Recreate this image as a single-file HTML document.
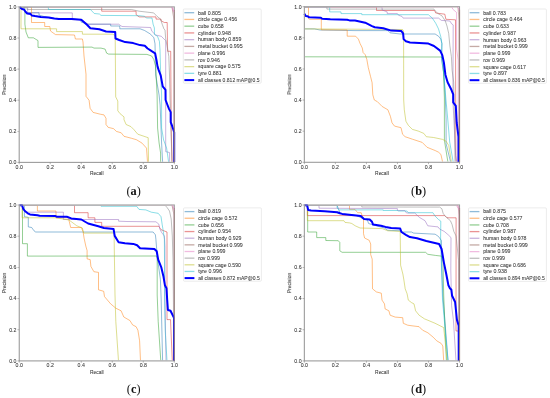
<!DOCTYPE html><html><head><meta charset="utf-8"><style>html,body{margin:0;padding:0;background:#fff;width:550px;height:398px;overflow:hidden}svg{display:block}#wrap{width:550px;height:398px}svg text{will-change:transform}</style></head><body><div id="wrap">
<svg width="550" height="398" viewBox="0 0 550 398" font-family="Liberation Sans, sans-serif">
<rect width="550" height="398" fill="#fff"/>
<defs><clipPath id="cpa"><rect x="19.9" y="7.6000000000000005" width="153.70000000000002" height="154.1"/></clipPath></defs>
<g clip-path="url(#cpa)">
<path d="M19.0,7.0 L21.2,8.7 L23.4,9.1 L25.2,11.3 L27.0,12.7 L39.0,12.7 L39.0,15.0 L44.5,16.7 L51.7,18.2 L59.0,18.9 L72.0,19.1 L81.0,19.7 L81.0,22.0 L88.0,24.2 L110.7,24.2 L110.7,26.0 L119.8,26.0 L119.8,28.8 L140.1,28.8 L144.6,30.5 L150.0,33.8 L153.8,37.5 L155.0,43.8 L155.7,75.0 L159.1,95.0 L160.1,105.0 L161.6,143.0 L162.6,162.0" fill="none" stroke="#1f77b4" stroke-opacity="0.5" stroke-width="1" stroke-linejoin="round"/>
<path d="M19.0,7.0 L31.5,7.0 L31.5,22.5 L44.7,22.5 L44.7,26.5 L49.8,26.5 L50.5,31.0 L55.5,34.6 L74.5,35.0 L75.4,39.0 L82.4,39.0 L83.0,42.0 L84.0,56.0 L86.0,74.2 L86.0,96.3 L89.1,100.3 L90.1,108.3 L93.1,112.4 L100.2,114.2 L104.0,114.9 L106.0,118.3 L106.0,124.5 L108.1,127.3 L113.6,128.7 L116.4,131.4 L121.2,132.8 L124.0,136.3 L131.6,138.3 L136.4,139.7 L142.0,143.1 L146.5,148.1 L147.5,162.0" fill="none" stroke="#ff7f0e" stroke-opacity="0.5" stroke-width="1" stroke-linejoin="round"/>
<path d="M19.0,7.0 L24.9,7.0 L24.9,24.2 L26.0,32.0 L28.3,37.8 L33.4,37.8 L38.0,40.6 L38.0,47.4 L92.0,47.1 L94.0,48.1 L101.0,48.1 L105.1,49.1 L106.6,53.1 L108.6,54.1 L146.9,54.4 L151.7,56.0 L153.8,59.5 L155.7,66.4 L157.1,95.0 L157.6,128.0 L159.1,143.0 L160.6,153.0 L160.6,162.0" fill="none" stroke="#2ca02c" stroke-opacity="0.5" stroke-width="1" stroke-linejoin="round"/>
<path d="M19.0,7.0 L101.7,7.0 L101.7,11.2 L136.1,11.2 L136.1,14.6 L139.0,16.9 L156.0,16.9 L156.0,19.1 L161.0,19.1 L161.0,20.8 L164.4,22.5 L167.2,22.5 L167.6,51.3 L170.7,51.3 L171.2,128.0 L172.0,162.0" fill="none" stroke="#d62728" stroke-opacity="0.5" stroke-width="1" stroke-linejoin="round"/>
<path d="M19.0,7.0 L27.7,7.0 L27.7,12.9 L72.3,12.9 L72.3,19.7 L81.3,19.7 L88.0,24.2 L118.6,24.2 L122.0,26.5 L150.6,27.5 L151.9,31.3 L155.7,35.0 L161.3,36.3 L163.8,38.8 L165.7,40.7 L165.7,151.6 L169.6,152.6 L169.6,162.0" fill="none" stroke="#9467bd" stroke-opacity="0.5" stroke-width="1" stroke-linejoin="round"/>
<path d="M19.0,7.0 L172.0,7.0 L174.0,20.0 L174.0,162.0" fill="none" stroke="#8c564b" stroke-opacity="0.5" stroke-width="1" stroke-linejoin="round"/>
<path d="M19.0,7.0 L171.8,7.0 L174.0,13.0 L174.0,162.0" fill="none" stroke="#e377c2" stroke-opacity="0.5" stroke-width="1" stroke-linejoin="round"/>
<path d="M19.0,7.0 L27.0,7.0 L27.0,9.5 L131.6,9.5 L139.0,11.2 L153.7,12.9 L157.0,16.3 L160.5,19.1 L162.2,24.2 L163.9,28.8 L165.0,30.0 L165.7,38.8 L167.6,48.8 L168.8,56.4 L169.5,75.0 L170.0,100.0 L172.0,162.0" fill="none" stroke="#7f7f7f" stroke-opacity="0.5" stroke-width="1" stroke-linejoin="round"/>
<path d="M19.0,7.0 L21.0,7.0 L21.0,28.8 L56.6,28.8 L56.6,31.6 L82.4,31.6 L82.4,34.2 L112.6,34.2 L115.2,35.5 L115.7,96.9 L117.8,101.0 L117.8,110.7 L119.9,113.5 L124.0,116.9 L124.0,119.7 L126.1,124.5 L130.9,126.6 L133.7,129.4 L137.8,134.2 L146.1,137.0 L148.2,137.7 L148.5,162.0" fill="none" stroke="#bcbd22" stroke-opacity="0.5" stroke-width="1" stroke-linejoin="round"/>
<path d="M19.0,7.0 L48.4,7.0 L48.4,9.5 L90.4,9.5 L94.3,13.5 L99.4,14.0 L101.0,15.4 L139.0,15.7 L144.6,16.3 L146.3,18.0 L152.0,18.0 L153.1,24.2 L154.4,28.0 L154.4,34.4 L157.5,36.3 L159.4,41.3 L160.0,50.0 L160.7,75.0 L161.6,95.0 L161.6,128.0 L163.6,140.0 L166.6,148.0 L168.6,162.0" fill="none" stroke="#17becf" stroke-opacity="0.5" stroke-width="1" stroke-linejoin="round"/>
</g><g>
<path d="M19.5,7.0 L22.0,9.0 L24.0,9.5 L25.5,11.8 L27.2,13.5 L30.6,14.0 L31.7,15.4 L35.0,16.0 L40.8,16.9 L48.7,17.4 L54.3,18.6 L58.9,19.1 L72.0,19.1 L81.3,19.7 L87.0,24.8 L90.4,28.2 L99.4,29.3 L106.1,31.5 L115.2,32.0 L115.5,38.5 L119.2,40.0 L125.2,42.1 L133.2,43.1 L140.0,45.1 L144.8,45.7 L147.6,48.5 L151.7,51.2 L155.1,53.3 L156.5,60.2 L157.5,66.4 L158.6,69.9 L160.7,75.4 L162.7,86.4 L165.5,89.9 L165.6,100.0 L167.1,104.0 L169.1,109.1 L170.7,112.1 L170.7,122.1 L172.2,126.2 L174.2,132.2 L174.2,162.0" fill="none" stroke="#0000ff" stroke-width="2" stroke-linejoin="round"/>
<rect x="19.2" y="6.9" width="155.10000000000002" height="155.5" fill="none" stroke="#9c9c9c" stroke-width="1.1"/>
<line x1="174.3" y1="9.9" x2="174.3" y2="162.4" stroke="#8c564b" stroke-opacity="0.35" stroke-width="1.3"/>
<path d="M171.8,6.9 Q173.8,7.4 174.0,11.9" fill="none" stroke="#e377c2" stroke-opacity="0.5" stroke-width="1"/>
<line x1="17.4" y1="162.40" x2="19.2" y2="162.40" stroke="#888" stroke-width="0.6"/>
<line x1="19.20" y1="162.4" x2="19.20" y2="164.20000000000002" stroke="#888" stroke-width="0.6"/>
<text x="16.4" y="164.20" font-size="4.8" fill="#333" stroke="#333" stroke-width="0.05" text-anchor="end" textLength="7.28" lengthAdjust="spacingAndGlyphs">0.0</text>
<text x="19.20" y="168.9" font-size="4.8" fill="#333" stroke="#333" stroke-width="0.05" text-anchor="middle" textLength="7.28" lengthAdjust="spacingAndGlyphs">0.0</text>
<line x1="17.4" y1="131.30" x2="19.2" y2="131.30" stroke="#888" stroke-width="0.6"/>
<line x1="50.22" y1="162.4" x2="50.22" y2="164.20000000000002" stroke="#888" stroke-width="0.6"/>
<text x="16.4" y="133.10" font-size="4.8" fill="#333" stroke="#333" stroke-width="0.05" text-anchor="end" textLength="7.28" lengthAdjust="spacingAndGlyphs">0.2</text>
<text x="50.22" y="168.9" font-size="4.8" fill="#333" stroke="#333" stroke-width="0.05" text-anchor="middle" textLength="7.28" lengthAdjust="spacingAndGlyphs">0.2</text>
<line x1="17.4" y1="100.20" x2="19.2" y2="100.20" stroke="#888" stroke-width="0.6"/>
<line x1="81.24" y1="162.4" x2="81.24" y2="164.20000000000002" stroke="#888" stroke-width="0.6"/>
<text x="16.4" y="102.00" font-size="4.8" fill="#333" stroke="#333" stroke-width="0.05" text-anchor="end" textLength="7.28" lengthAdjust="spacingAndGlyphs">0.4</text>
<text x="81.24" y="168.9" font-size="4.8" fill="#333" stroke="#333" stroke-width="0.05" text-anchor="middle" textLength="7.28" lengthAdjust="spacingAndGlyphs">0.4</text>
<line x1="17.4" y1="69.10" x2="19.2" y2="69.10" stroke="#888" stroke-width="0.6"/>
<line x1="112.26" y1="162.4" x2="112.26" y2="164.20000000000002" stroke="#888" stroke-width="0.6"/>
<text x="16.4" y="70.90" font-size="4.8" fill="#333" stroke="#333" stroke-width="0.05" text-anchor="end" textLength="7.28" lengthAdjust="spacingAndGlyphs">0.6</text>
<text x="112.26" y="168.9" font-size="4.8" fill="#333" stroke="#333" stroke-width="0.05" text-anchor="middle" textLength="7.28" lengthAdjust="spacingAndGlyphs">0.6</text>
<line x1="17.4" y1="38.00" x2="19.2" y2="38.00" stroke="#888" stroke-width="0.6"/>
<line x1="143.28" y1="162.4" x2="143.28" y2="164.20000000000002" stroke="#888" stroke-width="0.6"/>
<text x="16.4" y="39.80" font-size="4.8" fill="#333" stroke="#333" stroke-width="0.05" text-anchor="end" textLength="7.28" lengthAdjust="spacingAndGlyphs">0.8</text>
<text x="143.28" y="168.9" font-size="4.8" fill="#333" stroke="#333" stroke-width="0.05" text-anchor="middle" textLength="7.28" lengthAdjust="spacingAndGlyphs">0.8</text>
<line x1="17.4" y1="6.90" x2="19.2" y2="6.90" stroke="#888" stroke-width="0.6"/>
<line x1="174.30" y1="162.4" x2="174.30" y2="164.20000000000002" stroke="#888" stroke-width="0.6"/>
<text x="16.4" y="8.70" font-size="4.8" fill="#333" stroke="#333" stroke-width="0.05" text-anchor="end" textLength="7.28" lengthAdjust="spacingAndGlyphs">1.0</text>
<text x="174.30" y="168.9" font-size="4.8" fill="#333" stroke="#333" stroke-width="0.05" text-anchor="middle" textLength="7.28" lengthAdjust="spacingAndGlyphs">1.0</text>
<text x="96.75" y="175.20000000000002" font-size="4.8" fill="#333" stroke="#333" stroke-width="0.05" text-anchor="middle" textLength="13.66" lengthAdjust="spacingAndGlyphs">Recall</text>
<text transform="translate(6.0,84.65) rotate(-90)" font-size="4.8" fill="#333" stroke="#333" stroke-width="0.05" text-anchor="middle" textLength="20.44" lengthAdjust="spacingAndGlyphs">Precision</text>
<rect x="183.3" y="9" width="77.90" height="74.20" rx="1" fill="#fff" stroke="#ddd" stroke-width="0.6"/>
<line x1="184.40" y1="12.70" x2="194.20" y2="12.70" stroke="#1f77b4" stroke-opacity="0.5" stroke-width="1.3"/>
<text x="198.00" y="14.50" font-size="4.8" fill="#333" stroke="#333" stroke-width="0.05" textLength="22.83" lengthAdjust="spacingAndGlyphs">ball 0.805</text>
<line x1="184.40" y1="19.44" x2="194.20" y2="19.44" stroke="#ff7f0e" stroke-opacity="0.5" stroke-width="1.3"/>
<text x="198.00" y="21.24" font-size="4.8" fill="#333" stroke="#333" stroke-width="0.05" textLength="39.25" lengthAdjust="spacingAndGlyphs">circle cage 0.456</text>
<line x1="184.40" y1="26.18" x2="194.20" y2="26.18" stroke="#2ca02c" stroke-opacity="0.5" stroke-width="1.3"/>
<text x="198.00" y="27.98" font-size="4.8" fill="#333" stroke="#333" stroke-width="0.05" textLength="25.71" lengthAdjust="spacingAndGlyphs">cube 0.658</text>
<line x1="184.40" y1="32.92" x2="194.20" y2="32.92" stroke="#d62728" stroke-opacity="0.5" stroke-width="1.3"/>
<text x="198.00" y="34.72" font-size="4.8" fill="#333" stroke="#333" stroke-width="0.05" textLength="32.85" lengthAdjust="spacingAndGlyphs">cylinder 0.948</text>
<line x1="184.40" y1="39.66" x2="194.20" y2="39.66" stroke="#9467bd" stroke-opacity="0.5" stroke-width="1.3"/>
<text x="198.00" y="41.46" font-size="4.8" fill="#333" stroke="#333" stroke-width="0.05" textLength="43.33" lengthAdjust="spacingAndGlyphs">human body 0.859</text>
<line x1="184.40" y1="46.40" x2="194.20" y2="46.40" stroke="#8c564b" stroke-opacity="0.5" stroke-width="1.3"/>
<text x="198.00" y="48.20" font-size="4.8" fill="#333" stroke="#333" stroke-width="0.05" textLength="44.61" lengthAdjust="spacingAndGlyphs">metal bucket 0.995</text>
<line x1="184.40" y1="53.14" x2="194.20" y2="53.14" stroke="#e377c2" stroke-opacity="0.5" stroke-width="1.3"/>
<text x="198.00" y="54.94" font-size="4.8" fill="#333" stroke="#333" stroke-width="0.05" textLength="27.27" lengthAdjust="spacingAndGlyphs">plane 0.996</text>
<line x1="184.40" y1="59.88" x2="194.20" y2="59.88" stroke="#7f7f7f" stroke-opacity="0.5" stroke-width="1.3"/>
<text x="198.00" y="61.68" font-size="4.8" fill="#333" stroke="#333" stroke-width="0.05" textLength="21.86" lengthAdjust="spacingAndGlyphs">rov 0.946</text>
<line x1="184.40" y1="66.62" x2="194.20" y2="66.62" stroke="#bcbd22" stroke-opacity="0.5" stroke-width="1.3"/>
<text x="198.00" y="68.42" font-size="4.8" fill="#333" stroke="#333" stroke-width="0.05" textLength="42.68" lengthAdjust="spacingAndGlyphs">square cage 0.575</text>
<line x1="184.40" y1="73.36" x2="194.20" y2="73.36" stroke="#17becf" stroke-opacity="0.5" stroke-width="1.3"/>
<text x="198.00" y="75.16" font-size="4.8" fill="#333" stroke="#333" stroke-width="0.05" textLength="23.67" lengthAdjust="spacingAndGlyphs">tyre 0.881</text>
<line x1="184.40" y1="80.10" x2="194.20" y2="80.10" stroke="#0000ff" stroke-opacity="1" stroke-width="2"/>
<text x="198.00" y="81.90" font-size="4.8" fill="#333" stroke="#333" stroke-width="0.05" textLength="61.62" lengthAdjust="spacingAndGlyphs">all classes 0.812 mAP@0.5</text>
<text x="133.7" y="194.8" font-family="Liberation Serif, serif" font-size="12.3" fill="#111" text-anchor="middle">(<tspan font-weight="bold">a</tspan>)</text>
</g>
<defs><clipPath id="cpb"><rect x="305.05" y="7.4" width="153.74999999999997" height="154.20000000000002"/></clipPath></defs>
<g clip-path="url(#cpb)">
<path d="M304.5,7.0 L304.5,28.9 L314.4,28.9 L320.0,30.0 L355.0,30.6 L387.8,30.6 L390.0,32.8 L400.2,34.0 L435.1,34.0 L438.5,36.2 L440.8,39.1 L441.9,43.6 L441.6,58.9 L443.9,74.7 L445.3,98.0 L446.1,119.1 L446.1,143.8 L450.6,162.0" fill="none" stroke="#1f77b4" stroke-opacity="0.5" stroke-width="1" stroke-linejoin="round"/>
<path d="M304.0,7.0 L308.5,7.0 L308.5,18.7 L309.9,19.3 L321.3,19.3 L321.3,29.8 L347.2,30.0 L347.2,36.2 L355.6,36.2 L358.4,39.1 L360.1,43.6 L362.3,48.0 L363.1,52.5 L365.3,54.8 L366.8,59.3 L368.3,67.6 L370.6,76.7 L372.1,82.7 L372.8,94.8 L374.3,100.0 L377.3,101.6 L382.2,106.5 L387.9,109.8 L390.4,116.3 L392.0,122.8 L394.5,126.1 L401.0,127.7 L402.6,134.3 L405.1,136.7 L412.4,139.2 L422.2,142.4 L427.1,147.3 L435.3,150.6 L438.5,152.2 L440.9,154.4 L442.6,162.0" fill="none" stroke="#ff7f0e" stroke-opacity="0.5" stroke-width="1" stroke-linejoin="round"/>
<path d="M304.0,28.9 L304.3,28.9 L304.3,56.8 L440.8,57.0 L443.1,58.9 L444.4,98.0 L444.4,140.3 L447.9,162.0" fill="none" stroke="#2ca02c" stroke-opacity="0.5" stroke-width="1" stroke-linejoin="round"/>
<path d="M304.0,7.0 L376.5,7.0 L376.5,10.5 L434.6,10.5 L435.7,13.0 L444.8,14.2 L445.9,19.3 L455.5,19.8 L455.8,155.3 L456.5,162.0" fill="none" stroke="#d62728" stroke-opacity="0.5" stroke-width="1" stroke-linejoin="round"/>
<path d="M304.0,7.0 L382.1,7.0 L382.1,10.0 L387.2,11.9 L387.2,13.6 L397.4,13.6 L398.6,15.3 L402.0,16.4 L403.1,18.1 L438.5,18.1 L441.4,20.4 L449.9,21.0 L451.6,23.8 L453.2,24.9 L452.9,100.0 L456.0,162.0" fill="none" stroke="#9467bd" stroke-opacity="0.5" stroke-width="1" stroke-linejoin="round"/>
<path d="M304.0,7.0 L458.0,7.0 L459.0,20.0 L459.0,162.0" fill="none" stroke="#8c564b" stroke-opacity="0.5" stroke-width="1" stroke-linejoin="round"/>
<path d="M304.0,7.0 L452.1,7.0 L452.7,9.1 L456.6,12.5 L456.6,49.0 L458.2,60.0 L458.2,162.0" fill="none" stroke="#e377c2" stroke-opacity="0.5" stroke-width="1" stroke-linejoin="round"/>
<path d="M304.0,7.0 L326.9,7.0 L326.9,9.1 L434.0,9.1 L435.1,10.8 L438.0,13.6 L442.0,15.9 L445.3,21.0 L447.0,26.1 L448.7,33.4 L449.9,46.0 L451.4,56.6 L452.1,70.2 L453.7,82.2 L454.5,120.0 L455.0,162.0" fill="none" stroke="#7f7f7f" stroke-opacity="0.5" stroke-width="1" stroke-linejoin="round"/>
<path d="M304.0,28.9 L402.5,29.5 L403.6,31.0 L403.7,100.0 L404.3,109.8 L405.9,121.2 L408.3,125.3 L412.4,129.4 L418.1,131.0 L423.8,133.4 L426.3,136.7 L433.6,137.5 L442.6,139.4 L446.1,141.2 L448.8,145.6 L451.4,162.0" fill="none" stroke="#bcbd22" stroke-opacity="0.5" stroke-width="1" stroke-linejoin="round"/>
<path d="M304.0,7.0 L329.7,7.0 L329.7,11.9 L341.0,11.9 L341.0,13.6 L361.8,13.6 L361.8,14.7 L428.4,14.7 L432.3,18.1 L435.7,23.2 L438.5,28.9 L440.8,36.8 L441.9,43.6 L441.6,58.9 L443.9,74.7 L445.8,98.0 L447.9,120.9 L449.7,142.0 L453.2,162.0" fill="none" stroke="#17becf" stroke-opacity="0.5" stroke-width="1" stroke-linejoin="round"/>
</g><g>
<path d="M304.4,13.7 L305.7,16.1 L307.7,16.3 L309.3,17.3 L320.9,17.7 L322.1,18.7 L330.3,19.3 L347.2,19.8 L349.5,20.4 L355.0,20.4 L365.2,22.7 L372.0,26.1 L374.8,27.2 L383.3,28.3 L391.2,30.6 L401.4,31.1 L403.1,33.4 L403.6,39.1 L405.9,41.3 L410.0,42.5 L419.3,43.0 L428.4,43.6 L434.0,46.0 L440.1,50.6 L442.3,55.1 L443.9,62.6 L445.4,74.7 L447.6,82.2 L451.4,89.8 L453.2,94.3 L453.2,102.4 L455.8,105.9 L456.7,122.7 L458.5,136.8 L458.5,162.0" fill="none" stroke="#0000ff" stroke-width="2" stroke-linejoin="round"/>
<rect x="304.35" y="6.7" width="155.14999999999998" height="155.60000000000002" fill="none" stroke="#9c9c9c" stroke-width="1.1"/>
<line x1="459.5" y1="9.7" x2="459.5" y2="162.3" stroke="#8c564b" stroke-opacity="0.35" stroke-width="1.3"/>
<path d="M457.0,6.7 Q459.0,7.2 459.2,11.7" fill="none" stroke="#e377c2" stroke-opacity="0.5" stroke-width="1"/>
<line x1="302.55" y1="162.30" x2="304.35" y2="162.30" stroke="#888" stroke-width="0.6"/>
<line x1="304.35" y1="162.3" x2="304.35" y2="164.10000000000002" stroke="#888" stroke-width="0.6"/>
<text x="301.55" y="164.10" font-size="4.8" fill="#333" stroke="#333" stroke-width="0.05" text-anchor="end" textLength="7.28" lengthAdjust="spacingAndGlyphs">0.0</text>
<text x="304.35" y="168.8" font-size="4.8" fill="#333" stroke="#333" stroke-width="0.05" text-anchor="middle" textLength="7.28" lengthAdjust="spacingAndGlyphs">0.0</text>
<line x1="302.55" y1="131.18" x2="304.35" y2="131.18" stroke="#888" stroke-width="0.6"/>
<line x1="335.38" y1="162.3" x2="335.38" y2="164.10000000000002" stroke="#888" stroke-width="0.6"/>
<text x="301.55" y="132.98" font-size="4.8" fill="#333" stroke="#333" stroke-width="0.05" text-anchor="end" textLength="7.28" lengthAdjust="spacingAndGlyphs">0.2</text>
<text x="335.38" y="168.8" font-size="4.8" fill="#333" stroke="#333" stroke-width="0.05" text-anchor="middle" textLength="7.28" lengthAdjust="spacingAndGlyphs">0.2</text>
<line x1="302.55" y1="100.06" x2="304.35" y2="100.06" stroke="#888" stroke-width="0.6"/>
<line x1="366.41" y1="162.3" x2="366.41" y2="164.10000000000002" stroke="#888" stroke-width="0.6"/>
<text x="301.55" y="101.86" font-size="4.8" fill="#333" stroke="#333" stroke-width="0.05" text-anchor="end" textLength="7.28" lengthAdjust="spacingAndGlyphs">0.4</text>
<text x="366.41" y="168.8" font-size="4.8" fill="#333" stroke="#333" stroke-width="0.05" text-anchor="middle" textLength="7.28" lengthAdjust="spacingAndGlyphs">0.4</text>
<line x1="302.55" y1="68.94" x2="304.35" y2="68.94" stroke="#888" stroke-width="0.6"/>
<line x1="397.44" y1="162.3" x2="397.44" y2="164.10000000000002" stroke="#888" stroke-width="0.6"/>
<text x="301.55" y="70.74" font-size="4.8" fill="#333" stroke="#333" stroke-width="0.05" text-anchor="end" textLength="7.28" lengthAdjust="spacingAndGlyphs">0.6</text>
<text x="397.44" y="168.8" font-size="4.8" fill="#333" stroke="#333" stroke-width="0.05" text-anchor="middle" textLength="7.28" lengthAdjust="spacingAndGlyphs">0.6</text>
<line x1="302.55" y1="37.82" x2="304.35" y2="37.82" stroke="#888" stroke-width="0.6"/>
<line x1="428.47" y1="162.3" x2="428.47" y2="164.10000000000002" stroke="#888" stroke-width="0.6"/>
<text x="301.55" y="39.62" font-size="4.8" fill="#333" stroke="#333" stroke-width="0.05" text-anchor="end" textLength="7.28" lengthAdjust="spacingAndGlyphs">0.8</text>
<text x="428.47" y="168.8" font-size="4.8" fill="#333" stroke="#333" stroke-width="0.05" text-anchor="middle" textLength="7.28" lengthAdjust="spacingAndGlyphs">0.8</text>
<line x1="302.55" y1="6.70" x2="304.35" y2="6.70" stroke="#888" stroke-width="0.6"/>
<line x1="459.50" y1="162.3" x2="459.50" y2="164.10000000000002" stroke="#888" stroke-width="0.6"/>
<text x="301.55" y="8.50" font-size="4.8" fill="#333" stroke="#333" stroke-width="0.05" text-anchor="end" textLength="7.28" lengthAdjust="spacingAndGlyphs">1.0</text>
<text x="459.50" y="168.8" font-size="4.8" fill="#333" stroke="#333" stroke-width="0.05" text-anchor="middle" textLength="7.28" lengthAdjust="spacingAndGlyphs">1.0</text>
<text x="381.93" y="175.10000000000002" font-size="4.8" fill="#333" stroke="#333" stroke-width="0.05" text-anchor="middle" textLength="13.66" lengthAdjust="spacingAndGlyphs">Recall</text>
<text transform="translate(291.15000000000003,84.50) rotate(-90)" font-size="4.8" fill="#333" stroke="#333" stroke-width="0.05" text-anchor="middle" textLength="20.44" lengthAdjust="spacingAndGlyphs">Precision</text>
<rect x="468.5" y="9" width="77.90" height="74.30" rx="1" fill="#fff" stroke="#ddd" stroke-width="0.6"/>
<line x1="469.60" y1="12.70" x2="479.40" y2="12.70" stroke="#1f77b4" stroke-opacity="0.5" stroke-width="1.3"/>
<text x="483.20" y="14.50" font-size="4.8" fill="#333" stroke="#333" stroke-width="0.05" textLength="22.83" lengthAdjust="spacingAndGlyphs">ball 0.783</text>
<line x1="469.60" y1="19.45" x2="479.40" y2="19.45" stroke="#ff7f0e" stroke-opacity="0.5" stroke-width="1.3"/>
<text x="483.20" y="21.25" font-size="4.8" fill="#333" stroke="#333" stroke-width="0.05" textLength="39.25" lengthAdjust="spacingAndGlyphs">circle cage 0.464</text>
<line x1="469.60" y1="26.20" x2="479.40" y2="26.20" stroke="#2ca02c" stroke-opacity="0.5" stroke-width="1.3"/>
<text x="483.20" y="28.00" font-size="4.8" fill="#333" stroke="#333" stroke-width="0.05" textLength="25.71" lengthAdjust="spacingAndGlyphs">cube 0.633</text>
<line x1="469.60" y1="32.95" x2="479.40" y2="32.95" stroke="#d62728" stroke-opacity="0.5" stroke-width="1.3"/>
<text x="483.20" y="34.75" font-size="4.8" fill="#333" stroke="#333" stroke-width="0.05" textLength="32.85" lengthAdjust="spacingAndGlyphs">cylinder 0.987</text>
<line x1="469.60" y1="39.70" x2="479.40" y2="39.70" stroke="#9467bd" stroke-opacity="0.5" stroke-width="1.3"/>
<text x="483.20" y="41.50" font-size="4.8" fill="#333" stroke="#333" stroke-width="0.05" textLength="43.33" lengthAdjust="spacingAndGlyphs">human body 0.963</text>
<line x1="469.60" y1="46.45" x2="479.40" y2="46.45" stroke="#8c564b" stroke-opacity="0.5" stroke-width="1.3"/>
<text x="483.20" y="48.25" font-size="4.8" fill="#333" stroke="#333" stroke-width="0.05" textLength="44.61" lengthAdjust="spacingAndGlyphs">metal bucket 0.999</text>
<line x1="469.60" y1="53.20" x2="479.40" y2="53.20" stroke="#e377c2" stroke-opacity="0.5" stroke-width="1.3"/>
<text x="483.20" y="55.00" font-size="4.8" fill="#333" stroke="#333" stroke-width="0.05" textLength="27.27" lengthAdjust="spacingAndGlyphs">plane 0.999</text>
<line x1="469.60" y1="59.95" x2="479.40" y2="59.95" stroke="#7f7f7f" stroke-opacity="0.5" stroke-width="1.3"/>
<text x="483.20" y="61.75" font-size="4.8" fill="#333" stroke="#333" stroke-width="0.05" textLength="21.86" lengthAdjust="spacingAndGlyphs">rov 0.969</text>
<line x1="469.60" y1="66.70" x2="479.40" y2="66.70" stroke="#bcbd22" stroke-opacity="0.5" stroke-width="1.3"/>
<text x="483.20" y="68.50" font-size="4.8" fill="#333" stroke="#333" stroke-width="0.05" textLength="42.68" lengthAdjust="spacingAndGlyphs">square cage 0.617</text>
<line x1="469.60" y1="73.45" x2="479.40" y2="73.45" stroke="#17becf" stroke-opacity="0.5" stroke-width="1.3"/>
<text x="483.20" y="75.25" font-size="4.8" fill="#333" stroke="#333" stroke-width="0.05" textLength="23.67" lengthAdjust="spacingAndGlyphs">tyre 0.897</text>
<line x1="469.60" y1="80.20" x2="479.40" y2="80.20" stroke="#0000ff" stroke-opacity="1" stroke-width="2"/>
<text x="483.20" y="82.00" font-size="4.8" fill="#333" stroke="#333" stroke-width="0.05" textLength="61.62" lengthAdjust="spacingAndGlyphs">all classes 0.836 mAP@0.5</text>
<text x="418.6" y="194.8" font-family="Liberation Serif, serif" font-size="12.3" fill="#111" text-anchor="middle">(<tspan font-weight="bold">b</tspan>)</text>
</g>
<defs><clipPath id="cpc"><rect x="19.95" y="205.7" width="153.65" height="154.49999999999997"/></clipPath></defs>
<g clip-path="url(#cpc)">
<path d="M19.0,205.2 L24.4,205.2 L24.4,216.7 L28.3,217.3 L28.3,226.9 L31.7,227.5 L34.0,230.8 L35.7,232.0 L153.1,232.0 L155.4,234.8 L155.9,239.3 L157.4,258.1 L160.4,279.2 L161.2,300.0 L162.6,361.0" fill="none" stroke="#1f77b4" stroke-opacity="0.5" stroke-width="1" stroke-linejoin="round"/>
<path d="M19.0,205.2 L37.4,205.2 L37.4,211.0 L56.0,211.0 L56.0,217.8 L69.0,217.8 L69.0,220.5 L70.7,227.5 L81.3,227.5 L83.0,231.4 L84.1,238.2 L85.8,246.1 L87.1,250.6 L87.1,258.9 L90.2,259.6 L90.9,266.4 L93.9,271.7 L98.5,272.4 L98.5,289.8 L103.7,291.3 L104.5,296.6 L110.6,303.8 L115.8,308.2 L121.1,310.8 L123.8,317.0 L129.9,320.5 L132.6,324.9 L136.1,326.7 L137.9,330.2 L139.6,340.8 L140.5,361.0" fill="none" stroke="#ff7f0e" stroke-opacity="0.5" stroke-width="1" stroke-linejoin="round"/>
<path d="M19.0,205.2 L22.5,205.2 L22.5,243.7 L27.4,243.7 L27.4,256.1 L156.7,256.0 L157.2,260.0 L157.2,295.0 L158.2,321.4 L160.8,361.0" fill="none" stroke="#2ca02c" stroke-opacity="0.5" stroke-width="1" stroke-linejoin="round"/>
<path d="M19.0,205.2 L74.5,205.2 L74.5,212.7 L88.1,212.7 L88.1,217.8 L94.9,217.8 L94.9,222.4 L101.7,222.4 L101.7,226.3 L158.8,226.3 L161.0,229.7 L167.0,232.0 L167.0,319.6 L170.5,319.6 L172.3,361.0" fill="none" stroke="#d62728" stroke-opacity="0.5" stroke-width="1" stroke-linejoin="round"/>
<path d="M19.0,205.2 L22.1,205.2 L23.2,208.8 L24.9,211.0 L27.0,212.2 L63.4,212.2 L63.4,219.5 L118.6,219.5 L118.6,221.2 L127.0,221.5 L155.9,221.8 L158.8,224.1 L159.9,229.1 L161.6,232.5 L164.4,236.0 L165.0,247.0 L165.0,300.0 L166.0,361.0" fill="none" stroke="#9467bd" stroke-opacity="0.5" stroke-width="1" stroke-linejoin="round"/>
<path d="M19.0,205.2 L172.0,205.2 L174.0,215.0 L174.0,361.0" fill="none" stroke="#8c564b" stroke-opacity="0.5" stroke-width="1" stroke-linejoin="round"/>
<path d="M19.0,205.2 L172.5,205.2 L174.0,208.0 L174.0,361.0" fill="none" stroke="#e377c2" stroke-opacity="0.5" stroke-width="1" stroke-linejoin="round"/>
<path d="M19.0,205.2 L165.0,205.2 L167.2,207.7 L169.5,211.0 L171.2,219.0 L172.3,236.0 L173.0,260.0 L174.0,361.0" fill="none" stroke="#7f7f7f" stroke-opacity="0.5" stroke-width="1" stroke-linejoin="round"/>
<path d="M19.0,205.2 L22.1,205.2 L22.1,217.8 L56.0,217.8 L69.0,220.0 L76.8,225.8 L82.4,228.0 L83.6,233.1 L114.1,233.1 L114.3,250.0 L115.0,295.0 L115.8,321.4 L118.5,361.0" fill="none" stroke="#bcbd22" stroke-opacity="0.5" stroke-width="1" stroke-linejoin="round"/>
<path d="M19.0,205.2 L101.1,205.2 L101.1,206.3 L136.7,206.3 L139.0,209.4 L145.8,209.9 L151.4,212.2 L158.2,213.3 L161.0,216.7 L162.2,224.6 L163.3,231.4 L164.4,239.3 L164.5,260.0 L164.5,295.0 L165.2,330.2 L167.0,361.0" fill="none" stroke="#17becf" stroke-opacity="0.5" stroke-width="1" stroke-linejoin="round"/>
</g><g>
<path d="M19.5,205.2 L22.1,205.2 L23.2,208.8 L24.9,211.0 L27.7,213.3 L30.0,214.4 L37.4,215.3 L39.6,215.8 L55.5,216.1 L56.6,216.7 L66.8,216.7 L71.3,218.4 L81.3,219.5 L88.1,223.5 L98.3,226.3 L103.9,228.0 L113.6,229.1 L114.7,235.9 L118.6,242.2 L124.9,243.3 L133.3,243.9 L137.1,245.3 L140.1,248.3 L154.4,249.0 L156.7,251.3 L158.2,259.6 L161.2,267.1 L163.4,276.2 L164.9,285.2 L166.5,288.2 L167.2,300.0 L167.9,310.0 L170.5,310.8 L174.0,317.9 L174.0,361.0" fill="none" stroke="#0000ff" stroke-width="2" stroke-linejoin="round"/>
<rect x="19.25" y="205.0" width="155.05" height="155.89999999999998" fill="none" stroke="#9c9c9c" stroke-width="1.1"/>
<line x1="174.3" y1="208.0" x2="174.3" y2="360.9" stroke="#8c564b" stroke-opacity="0.35" stroke-width="1.3"/>
<path d="M171.8,205.0 Q173.8,205.5 174.0,210.0" fill="none" stroke="#e377c2" stroke-opacity="0.5" stroke-width="1"/>
<line x1="17.45" y1="360.90" x2="19.25" y2="360.90" stroke="#888" stroke-width="0.6"/>
<line x1="19.25" y1="360.9" x2="19.25" y2="362.7" stroke="#888" stroke-width="0.6"/>
<text x="16.45" y="362.70" font-size="4.8" fill="#333" stroke="#333" stroke-width="0.05" text-anchor="end" textLength="7.28" lengthAdjust="spacingAndGlyphs">0.0</text>
<text x="19.25" y="367.4" font-size="4.8" fill="#333" stroke="#333" stroke-width="0.05" text-anchor="middle" textLength="7.28" lengthAdjust="spacingAndGlyphs">0.0</text>
<line x1="17.45" y1="329.72" x2="19.25" y2="329.72" stroke="#888" stroke-width="0.6"/>
<line x1="50.26" y1="360.9" x2="50.26" y2="362.7" stroke="#888" stroke-width="0.6"/>
<text x="16.45" y="331.52" font-size="4.8" fill="#333" stroke="#333" stroke-width="0.05" text-anchor="end" textLength="7.28" lengthAdjust="spacingAndGlyphs">0.2</text>
<text x="50.26" y="367.4" font-size="4.8" fill="#333" stroke="#333" stroke-width="0.05" text-anchor="middle" textLength="7.28" lengthAdjust="spacingAndGlyphs">0.2</text>
<line x1="17.45" y1="298.54" x2="19.25" y2="298.54" stroke="#888" stroke-width="0.6"/>
<line x1="81.27" y1="360.9" x2="81.27" y2="362.7" stroke="#888" stroke-width="0.6"/>
<text x="16.45" y="300.34" font-size="4.8" fill="#333" stroke="#333" stroke-width="0.05" text-anchor="end" textLength="7.28" lengthAdjust="spacingAndGlyphs">0.4</text>
<text x="81.27" y="367.4" font-size="4.8" fill="#333" stroke="#333" stroke-width="0.05" text-anchor="middle" textLength="7.28" lengthAdjust="spacingAndGlyphs">0.4</text>
<line x1="17.45" y1="267.36" x2="19.25" y2="267.36" stroke="#888" stroke-width="0.6"/>
<line x1="112.28" y1="360.9" x2="112.28" y2="362.7" stroke="#888" stroke-width="0.6"/>
<text x="16.45" y="269.16" font-size="4.8" fill="#333" stroke="#333" stroke-width="0.05" text-anchor="end" textLength="7.28" lengthAdjust="spacingAndGlyphs">0.6</text>
<text x="112.28" y="367.4" font-size="4.8" fill="#333" stroke="#333" stroke-width="0.05" text-anchor="middle" textLength="7.28" lengthAdjust="spacingAndGlyphs">0.6</text>
<line x1="17.45" y1="236.18" x2="19.25" y2="236.18" stroke="#888" stroke-width="0.6"/>
<line x1="143.29" y1="360.9" x2="143.29" y2="362.7" stroke="#888" stroke-width="0.6"/>
<text x="16.45" y="237.98" font-size="4.8" fill="#333" stroke="#333" stroke-width="0.05" text-anchor="end" textLength="7.28" lengthAdjust="spacingAndGlyphs">0.8</text>
<text x="143.29" y="367.4" font-size="4.8" fill="#333" stroke="#333" stroke-width="0.05" text-anchor="middle" textLength="7.28" lengthAdjust="spacingAndGlyphs">0.8</text>
<line x1="17.45" y1="205.00" x2="19.25" y2="205.00" stroke="#888" stroke-width="0.6"/>
<line x1="174.30" y1="360.9" x2="174.30" y2="362.7" stroke="#888" stroke-width="0.6"/>
<text x="16.45" y="206.80" font-size="4.8" fill="#333" stroke="#333" stroke-width="0.05" text-anchor="end" textLength="7.28" lengthAdjust="spacingAndGlyphs">1.0</text>
<text x="174.30" y="367.4" font-size="4.8" fill="#333" stroke="#333" stroke-width="0.05" text-anchor="middle" textLength="7.28" lengthAdjust="spacingAndGlyphs">1.0</text>
<text x="96.78" y="373.7" font-size="4.8" fill="#333" stroke="#333" stroke-width="0.05" text-anchor="middle" textLength="13.66" lengthAdjust="spacingAndGlyphs">Recall</text>
<text transform="translate(6.050000000000001,282.95) rotate(-90)" font-size="4.8" fill="#333" stroke="#333" stroke-width="0.05" text-anchor="middle" textLength="20.44" lengthAdjust="spacingAndGlyphs">Precision</text>
<rect x="183.5" y="207.9" width="77.90" height="73.30" rx="1" fill="#fff" stroke="#ddd" stroke-width="0.6"/>
<line x1="184.60" y1="211.60" x2="194.40" y2="211.60" stroke="#1f77b4" stroke-opacity="0.5" stroke-width="1.3"/>
<text x="198.20" y="213.40" font-size="4.8" fill="#333" stroke="#333" stroke-width="0.05" textLength="22.83" lengthAdjust="spacingAndGlyphs">ball 0.819</text>
<line x1="184.60" y1="218.25" x2="194.40" y2="218.25" stroke="#ff7f0e" stroke-opacity="0.5" stroke-width="1.3"/>
<text x="198.20" y="220.05" font-size="4.8" fill="#333" stroke="#333" stroke-width="0.05" textLength="39.25" lengthAdjust="spacingAndGlyphs">circle cage 0.572</text>
<line x1="184.60" y1="224.90" x2="194.40" y2="224.90" stroke="#2ca02c" stroke-opacity="0.5" stroke-width="1.3"/>
<text x="198.20" y="226.70" font-size="4.8" fill="#333" stroke="#333" stroke-width="0.05" textLength="25.71" lengthAdjust="spacingAndGlyphs">cube 0.656</text>
<line x1="184.60" y1="231.55" x2="194.40" y2="231.55" stroke="#d62728" stroke-opacity="0.5" stroke-width="1.3"/>
<text x="198.20" y="233.35" font-size="4.8" fill="#333" stroke="#333" stroke-width="0.05" textLength="32.85" lengthAdjust="spacingAndGlyphs">cylinder 0.954</text>
<line x1="184.60" y1="238.20" x2="194.40" y2="238.20" stroke="#9467bd" stroke-opacity="0.5" stroke-width="1.3"/>
<text x="198.20" y="240.00" font-size="4.8" fill="#333" stroke="#333" stroke-width="0.05" textLength="43.33" lengthAdjust="spacingAndGlyphs">human body 0.929</text>
<line x1="184.60" y1="244.85" x2="194.40" y2="244.85" stroke="#8c564b" stroke-opacity="0.5" stroke-width="1.3"/>
<text x="198.20" y="246.65" font-size="4.8" fill="#333" stroke="#333" stroke-width="0.05" textLength="44.61" lengthAdjust="spacingAndGlyphs">metal bucket 0.999</text>
<line x1="184.60" y1="251.50" x2="194.40" y2="251.50" stroke="#e377c2" stroke-opacity="0.5" stroke-width="1.3"/>
<text x="198.20" y="253.30" font-size="4.8" fill="#333" stroke="#333" stroke-width="0.05" textLength="27.27" lengthAdjust="spacingAndGlyphs">plane 0.999</text>
<line x1="184.60" y1="258.15" x2="194.40" y2="258.15" stroke="#7f7f7f" stroke-opacity="0.5" stroke-width="1.3"/>
<text x="198.20" y="259.95" font-size="4.8" fill="#333" stroke="#333" stroke-width="0.05" textLength="21.86" lengthAdjust="spacingAndGlyphs">rov 0.999</text>
<line x1="184.60" y1="264.80" x2="194.40" y2="264.80" stroke="#bcbd22" stroke-opacity="0.5" stroke-width="1.3"/>
<text x="198.20" y="266.60" font-size="4.8" fill="#333" stroke="#333" stroke-width="0.05" textLength="42.68" lengthAdjust="spacingAndGlyphs">square cage 0.590</text>
<line x1="184.60" y1="271.45" x2="194.40" y2="271.45" stroke="#17becf" stroke-opacity="0.5" stroke-width="1.3"/>
<text x="198.20" y="273.25" font-size="4.8" fill="#333" stroke="#333" stroke-width="0.05" textLength="23.67" lengthAdjust="spacingAndGlyphs">tyre 0.996</text>
<line x1="184.60" y1="278.10" x2="194.40" y2="278.10" stroke="#0000ff" stroke-opacity="1" stroke-width="2"/>
<text x="198.20" y="279.90" font-size="4.8" fill="#333" stroke="#333" stroke-width="0.05" textLength="61.62" lengthAdjust="spacingAndGlyphs">all classes 0.872 mAP@0.5</text>
<text x="133.7" y="393.0" font-family="Liberation Serif, serif" font-size="12.3" fill="#111" text-anchor="middle">(<tspan font-weight="bold">c</tspan>)</text>
</g>
<defs><clipPath id="cpd"><rect x="305.05" y="205.7" width="153.74999999999997" height="154.49999999999997"/></clipPath></defs>
<g clip-path="url(#cpd)">
<path d="M304.0,205.2 L337.0,205.2 L340.0,213.0 L342.2,213.9 L356.3,215.6 L364.0,219.0 L367.4,220.1 L368.6,223.5 L372.0,224.6 L384.4,228.0 L387.8,230.3 L401.4,230.8 L402.5,232.0 L411.4,232.0 L413.7,233.1 L435.1,234.2 L438.5,236.5 L441.4,240.5 L441.5,260.0 L442.8,295.0 L448.1,361.0" fill="none" stroke="#1f77b4" stroke-opacity="0.5" stroke-width="1" stroke-linejoin="round"/>
<path d="M304.0,205.2 L349.5,205.2 L349.5,209.4 L355.0,209.4 L356.7,211.6 L357.8,212.7 L361.2,212.7 L362.4,216.7 L363.5,219.0 L363.5,233.7 L364.6,238.0 L369.2,240.3 L370.7,244.0 L370.7,254.6 L372.2,259.1 L372.5,288.8 L376.3,291.9 L381.3,293.2 L382.0,300.1 L384.5,303.9 L385.1,308.9 L388.9,310.8 L390.1,315.2 L395.2,317.1 L402.7,317.7 L403.3,323.3 L407.7,325.2 L412.0,325.8 L419.1,326.7 L422.6,330.2 L427.9,332.8 L433.2,337.2 L436.7,340.8 L441.1,343.4 L442.8,346.0 L443.7,361.0" fill="none" stroke="#ff7f0e" stroke-opacity="0.5" stroke-width="1" stroke-linejoin="round"/>
<path d="M304.0,205.2 L307.7,205.2 L307.7,232.0 L316.7,232.0 L316.7,237.6 L325.8,237.6 L325.8,240.5 L338.3,240.7 L339.8,242.5 L339.8,250.8 L342.1,252.3 L425.5,252.3 L427.8,254.3 L435.3,255.4 L441.4,256.1 L443.0,262.0 L443.7,295.0 L446.4,361.0" fill="none" stroke="#2ca02c" stroke-opacity="0.5" stroke-width="1" stroke-linejoin="round"/>
<path d="M304.0,205.2 L307.4,205.2 L307.4,215.6 L444.8,215.6 L447.0,217.8 L456.1,217.8 L456.0,331.0 L458.7,331.0 L459.0,361.0" fill="none" stroke="#d62728" stroke-opacity="0.5" stroke-width="1" stroke-linejoin="round"/>
<path d="M304.0,205.2 L319.0,205.2 L319.0,208.2 L397.4,208.6 L397.4,210.5 L404.8,210.5 L406.5,213.0 L414.8,213.0 L419.3,217.3 L425.0,220.7 L427.8,225.8 L438.0,226.9 L439.7,229.1 L444.2,231.4 L448.2,234.8 L451.0,237.6 L450.8,270.0 L451.6,305.6 L453.4,320.0 L456.0,361.0" fill="none" stroke="#9467bd" stroke-opacity="0.5" stroke-width="1" stroke-linejoin="round"/>
<path d="M304.0,205.2 L458.0,205.2 L459.0,215.0 L459.0,361.0" fill="none" stroke="#8c564b" stroke-opacity="0.5" stroke-width="1" stroke-linejoin="round"/>
<path d="M304.0,205.2 L456.0,205.2 L459.0,209.0 L459.0,361.0" fill="none" stroke="#e377c2" stroke-opacity="0.5" stroke-width="1" stroke-linejoin="round"/>
<path d="M304.0,205.2 L361.8,205.2 L361.8,207.0 L439.7,207.1 L441.9,208.8 L443.1,213.3 L444.8,215.6 L447.0,217.8 L450.4,220.7 L452.1,224.6 L453.8,231.4 L456.1,236.0 L458.5,260.0 L459.0,361.0" fill="none" stroke="#7f7f7f" stroke-opacity="0.5" stroke-width="1" stroke-linejoin="round"/>
<path d="M304.0,205.2 L307.4,205.2 L307.4,220.7 L343.9,220.7 L345.0,222.4 L349.5,222.9 L351.8,223.5 L355.2,225.8 L360.1,228.0 L382.1,228.6 L387.8,230.8 L400.2,231.4 L400.6,265.2 L402.9,274.2 L403.9,280.0 L405.2,288.8 L407.1,293.8 L408.3,300.1 L411.5,302.6 L414.0,303.9 L415.6,310.8 L419.1,315.2 L424.4,318.8 L434.9,323.2 L443.7,327.6 L447.2,361.0" fill="none" stroke="#bcbd22" stroke-opacity="0.5" stroke-width="1" stroke-linejoin="round"/>
<path d="M304.0,205.2 L337.1,205.2 L337.1,208.0 L339.3,209.9 L383.3,209.9 L383.3,210.5 L397.4,210.5 L398.6,211.0 L407.0,211.0 L408.2,212.7 L432.9,212.7 L435.1,216.1 L438.5,219.5 L440.8,221.2 L440.6,238.0 L441.6,270.0 L442.5,300.0 L448.0,361.0" fill="none" stroke="#17becf" stroke-opacity="0.5" stroke-width="1" stroke-linejoin="round"/>
</g><g>
<path d="M304.5,205.2 L307.1,205.2 L308.2,209.9 L311.0,210.5 L324.6,211.3 L337.1,212.2 L339.9,213.3 L342.2,213.9 L356.3,215.6 L360.7,216.1 L364.0,219.0 L369.7,219.5 L372.0,221.8 L373.1,224.6 L381.0,225.8 L385.5,226.9 L391.2,228.0 L400.2,228.6 L401.4,232.0 L405.9,234.8 L409.9,237.1 L417.0,238.2 L426.3,241.0 L439.1,244.0 L441.6,249.0 L443.9,262.6 L446.1,273.2 L448.4,285.2 L449.9,288.3 L451.4,289.8 L452.1,295.8 L455.1,302.0 L456.9,319.6 L458.7,325.8 L458.7,361.0" fill="none" stroke="#0000ff" stroke-width="2" stroke-linejoin="round"/>
<rect x="304.35" y="205.0" width="155.14999999999998" height="155.89999999999998" fill="none" stroke="#9c9c9c" stroke-width="1.1"/>
<line x1="459.5" y1="208.0" x2="459.5" y2="360.9" stroke="#8c564b" stroke-opacity="0.35" stroke-width="1.3"/>
<path d="M457.0,205.0 Q459.0,205.5 459.2,210.0" fill="none" stroke="#e377c2" stroke-opacity="0.5" stroke-width="1"/>
<line x1="302.55" y1="360.90" x2="304.35" y2="360.90" stroke="#888" stroke-width="0.6"/>
<line x1="304.35" y1="360.9" x2="304.35" y2="362.7" stroke="#888" stroke-width="0.6"/>
<text x="301.55" y="362.70" font-size="4.8" fill="#333" stroke="#333" stroke-width="0.05" text-anchor="end" textLength="7.28" lengthAdjust="spacingAndGlyphs">0.0</text>
<text x="304.35" y="367.4" font-size="4.8" fill="#333" stroke="#333" stroke-width="0.05" text-anchor="middle" textLength="7.28" lengthAdjust="spacingAndGlyphs">0.0</text>
<line x1="302.55" y1="329.72" x2="304.35" y2="329.72" stroke="#888" stroke-width="0.6"/>
<line x1="335.38" y1="360.9" x2="335.38" y2="362.7" stroke="#888" stroke-width="0.6"/>
<text x="301.55" y="331.52" font-size="4.8" fill="#333" stroke="#333" stroke-width="0.05" text-anchor="end" textLength="7.28" lengthAdjust="spacingAndGlyphs">0.2</text>
<text x="335.38" y="367.4" font-size="4.8" fill="#333" stroke="#333" stroke-width="0.05" text-anchor="middle" textLength="7.28" lengthAdjust="spacingAndGlyphs">0.2</text>
<line x1="302.55" y1="298.54" x2="304.35" y2="298.54" stroke="#888" stroke-width="0.6"/>
<line x1="366.41" y1="360.9" x2="366.41" y2="362.7" stroke="#888" stroke-width="0.6"/>
<text x="301.55" y="300.34" font-size="4.8" fill="#333" stroke="#333" stroke-width="0.05" text-anchor="end" textLength="7.28" lengthAdjust="spacingAndGlyphs">0.4</text>
<text x="366.41" y="367.4" font-size="4.8" fill="#333" stroke="#333" stroke-width="0.05" text-anchor="middle" textLength="7.28" lengthAdjust="spacingAndGlyphs">0.4</text>
<line x1="302.55" y1="267.36" x2="304.35" y2="267.36" stroke="#888" stroke-width="0.6"/>
<line x1="397.44" y1="360.9" x2="397.44" y2="362.7" stroke="#888" stroke-width="0.6"/>
<text x="301.55" y="269.16" font-size="4.8" fill="#333" stroke="#333" stroke-width="0.05" text-anchor="end" textLength="7.28" lengthAdjust="spacingAndGlyphs">0.6</text>
<text x="397.44" y="367.4" font-size="4.8" fill="#333" stroke="#333" stroke-width="0.05" text-anchor="middle" textLength="7.28" lengthAdjust="spacingAndGlyphs">0.6</text>
<line x1="302.55" y1="236.18" x2="304.35" y2="236.18" stroke="#888" stroke-width="0.6"/>
<line x1="428.47" y1="360.9" x2="428.47" y2="362.7" stroke="#888" stroke-width="0.6"/>
<text x="301.55" y="237.98" font-size="4.8" fill="#333" stroke="#333" stroke-width="0.05" text-anchor="end" textLength="7.28" lengthAdjust="spacingAndGlyphs">0.8</text>
<text x="428.47" y="367.4" font-size="4.8" fill="#333" stroke="#333" stroke-width="0.05" text-anchor="middle" textLength="7.28" lengthAdjust="spacingAndGlyphs">0.8</text>
<line x1="302.55" y1="205.00" x2="304.35" y2="205.00" stroke="#888" stroke-width="0.6"/>
<line x1="459.50" y1="360.9" x2="459.50" y2="362.7" stroke="#888" stroke-width="0.6"/>
<text x="301.55" y="206.80" font-size="4.8" fill="#333" stroke="#333" stroke-width="0.05" text-anchor="end" textLength="7.28" lengthAdjust="spacingAndGlyphs">1.0</text>
<text x="459.50" y="367.4" font-size="4.8" fill="#333" stroke="#333" stroke-width="0.05" text-anchor="middle" textLength="7.28" lengthAdjust="spacingAndGlyphs">1.0</text>
<text x="381.93" y="373.7" font-size="4.8" fill="#333" stroke="#333" stroke-width="0.05" text-anchor="middle" textLength="13.66" lengthAdjust="spacingAndGlyphs">Recall</text>
<text transform="translate(291.15000000000003,282.95) rotate(-90)" font-size="4.8" fill="#333" stroke="#333" stroke-width="0.05" text-anchor="middle" textLength="20.44" lengthAdjust="spacingAndGlyphs">Precision</text>
<rect x="468.5" y="207.9" width="77.90" height="73.50" rx="1" fill="#fff" stroke="#ddd" stroke-width="0.6"/>
<line x1="469.60" y1="211.60" x2="479.40" y2="211.60" stroke="#1f77b4" stroke-opacity="0.5" stroke-width="1.3"/>
<text x="483.20" y="213.40" font-size="4.8" fill="#333" stroke="#333" stroke-width="0.05" textLength="22.83" lengthAdjust="spacingAndGlyphs">ball 0.875</text>
<line x1="469.60" y1="218.27" x2="479.40" y2="218.27" stroke="#ff7f0e" stroke-opacity="0.5" stroke-width="1.3"/>
<text x="483.20" y="220.07" font-size="4.8" fill="#333" stroke="#333" stroke-width="0.05" textLength="39.25" lengthAdjust="spacingAndGlyphs">circle cage 0.577</text>
<line x1="469.60" y1="224.94" x2="479.40" y2="224.94" stroke="#2ca02c" stroke-opacity="0.5" stroke-width="1.3"/>
<text x="483.20" y="226.74" font-size="4.8" fill="#333" stroke="#333" stroke-width="0.05" textLength="25.71" lengthAdjust="spacingAndGlyphs">cube 0.708</text>
<line x1="469.60" y1="231.61" x2="479.40" y2="231.61" stroke="#d62728" stroke-opacity="0.5" stroke-width="1.3"/>
<text x="483.20" y="233.41" font-size="4.8" fill="#333" stroke="#333" stroke-width="0.05" textLength="32.85" lengthAdjust="spacingAndGlyphs">cylinder 0.987</text>
<line x1="469.60" y1="238.28" x2="479.40" y2="238.28" stroke="#9467bd" stroke-opacity="0.5" stroke-width="1.3"/>
<text x="483.20" y="240.08" font-size="4.8" fill="#333" stroke="#333" stroke-width="0.05" textLength="43.33" lengthAdjust="spacingAndGlyphs">human body 0.978</text>
<line x1="469.60" y1="244.95" x2="479.40" y2="244.95" stroke="#8c564b" stroke-opacity="0.5" stroke-width="1.3"/>
<text x="483.20" y="246.75" font-size="4.8" fill="#333" stroke="#333" stroke-width="0.05" textLength="44.61" lengthAdjust="spacingAndGlyphs">metal bucket 0.999</text>
<line x1="469.60" y1="251.62" x2="479.40" y2="251.62" stroke="#e377c2" stroke-opacity="0.5" stroke-width="1.3"/>
<text x="483.20" y="253.42" font-size="4.8" fill="#333" stroke="#333" stroke-width="0.05" textLength="27.27" lengthAdjust="spacingAndGlyphs">plane 0.999</text>
<line x1="469.60" y1="258.29" x2="479.40" y2="258.29" stroke="#7f7f7f" stroke-opacity="0.5" stroke-width="1.3"/>
<text x="483.20" y="260.09" font-size="4.8" fill="#333" stroke="#333" stroke-width="0.05" textLength="21.86" lengthAdjust="spacingAndGlyphs">rov 0.999</text>
<line x1="469.60" y1="264.96" x2="479.40" y2="264.96" stroke="#bcbd22" stroke-opacity="0.5" stroke-width="1.3"/>
<text x="483.20" y="266.76" font-size="4.8" fill="#333" stroke="#333" stroke-width="0.05" textLength="42.68" lengthAdjust="spacingAndGlyphs">square cage 0.686</text>
<line x1="469.60" y1="271.63" x2="479.40" y2="271.63" stroke="#17becf" stroke-opacity="0.5" stroke-width="1.3"/>
<text x="483.20" y="273.43" font-size="4.8" fill="#333" stroke="#333" stroke-width="0.05" textLength="23.67" lengthAdjust="spacingAndGlyphs">tyre 0.938</text>
<line x1="469.60" y1="278.30" x2="479.40" y2="278.30" stroke="#0000ff" stroke-opacity="1" stroke-width="2"/>
<text x="483.20" y="280.10" font-size="4.8" fill="#333" stroke="#333" stroke-width="0.05" textLength="61.62" lengthAdjust="spacingAndGlyphs">all classes 0.894 mAP@0.5</text>
<text x="418.6" y="393.0" font-family="Liberation Serif, serif" font-size="12.3" fill="#111" text-anchor="middle">(<tspan font-weight="bold">d</tspan>)</text>
</g>
</svg></div></body></html>
